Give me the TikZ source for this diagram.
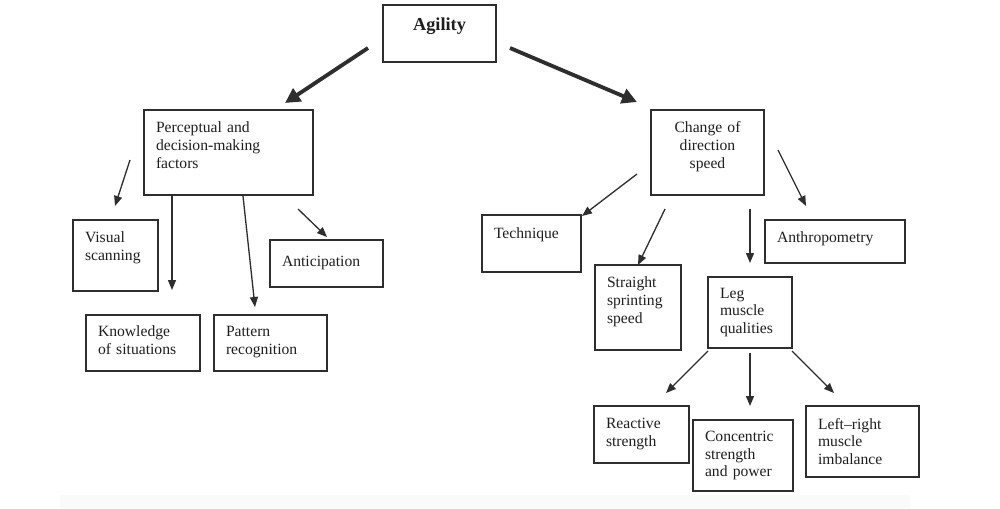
\documentclass[tikz,border=0pt]{standalone}
\usepackage{fontspec}
\setmainfont{Liberation Serif}
\usetikzlibrary{arrows.meta}

\definecolor{linegray}{HTML}{2E2E2E}
\definecolor{inkgray}{HTML}{1E1E1E}
% zero-width strut that deepens the last line, lifts text in its box
\newcommand{\textlift}[1]{\rule[-#1]{0pt}{#1}}

\begin{document}
\begin{tikzpicture}[x=0.02cm, y=-0.02cm,
        every node/.style={font=\fontsize{8.9}{10.2}\selectfont, text=inkgray},
        box/.style={rectangle, draw=linegray, line width=0.85pt,
            inner xsep=0.24cm, inner ysep=0pt, align=left},
        cbox/.style={box, align=center},
        arrow/.style={-{Triangle[length=0.2cm, width=0.16cm]},
            line width=0.75pt, draw=linegray},
        bigarrow/.style={-{Triangle[length=0.3cm, width=0.3cm]},
            line width=2.2pt, draw=linegray}
      ]
      \useasboundingbox (0,0) rectangle (1000,508);
      % faint band along the bottom edge
      \fill[black!2] (60,495) rectangle (910,508);

      % top
      \node[cbox, minimum width=2.26cm, minimum height=1.14cm, text width=1.78cm,
        font=\fontsize{10.4}{12}\selectfont\bfseries] (agility) at (439.5,33.5)
      {Agility\textlift{0.37cm}};

      % left branch
      \node[box, minimum width=3.38cm, minimum height=1.70cm, text width=2.90cm]
      (percep) at (228.5,152.5)
      {Perceptual and\\decision-making\\factors\textlift{0.31cm}};
      \node[box, minimum width=1.70cm, minimum height=1.42cm, text width=1.22cm]
      (visual) at (115.5,255.5)
      {Visual\\scanning\textlift{0.37cm}};
      \node[box, minimum width=2.28cm, minimum height=1.12cm, text width=1.80cm]
      (knowl) at (143,343)
      {Knowledge\\of situations\textlift{0.11cm}};
      \node[box, minimum width=2.26cm, minimum height=1.12cm, text width=1.78cm]
      (pattern) at (270.5,343)
      {Pattern\\recognition\textlift{0.11cm}};
      \node[box, minimum width=2.26cm, minimum height=0.94cm, text width=1.78cm]
      (anticip) at (326.5,263.5)
      {Anticipation\textlift{0.09cm}};

      % right branch
      \node[cbox, minimum width=2.26cm, minimum height=1.70cm, text width=1.78cm]
      (cods) at (707.5,152.5)
      {Change of\\direction\\speed\textlift{0.31cm}};
      \node[box, minimum width=1.98cm, minimum height=1.14cm, text width=1.50cm]
      (techn) at (531.5,243.5)
      {Technique\textlift{0.41cm}};
      \node[box, minimum width=1.72cm, minimum height=1.70cm, text width=1.24cm]
      (sprint) at (638,307.5)
      {Straight\\sprinting\\speed\textlift{0.29cm}};
      \node[box, minimum width=2.80cm, minimum height=0.86cm, text width=2.32cm]
      (anthro) at (835,241.5)
      {Anthropometry\textlift{0.17cm}};
      \node[box, minimum width=1.68cm, minimum height=1.42cm, text width=1.20cm]
      (legmq) at (750,312.5)
      {Leg\\muscle\\qualities};
      \node[box, minimum width=1.90cm, minimum height=1.14cm, text width=1.42cm]
      (react) at (641.5,434.5)
      {Reactive\\strength\textlift{0.07cm}};
      \node[box, minimum width=2.00cm, minimum height=1.42cm, text width=1.52cm]
      (concen) at (743,455.5)
      {Concentric\\strength\\and power};
      \node[box, minimum width=2.26cm, minimum height=1.42cm, text width=1.78cm]
      (lrimb) at (862.5,441.5)
      {Left--right\\muscle\\imbalance};

      % free arrow ends
      \coordinate (ag-l)   at (368,48);  \coordinate (percep-in) at (285,103);
      \coordinate (ag-r)   at (510,48);  \coordinate (cods-in)   at (637,102);
      \coordinate (pf-1)   at (130,160); \coordinate (visual-in) at (115,206);
      \coordinate (pf-2)   at (172,196); \coordinate (knowl-in)  at (172,290);
      \coordinate (pf-3)   at (243,196); \coordinate (pattern-in) at (255,307);
      \coordinate (pf-4)   at (298,209); \coordinate (anticip-in) at (327,237);
      \coordinate (cd-1)   at (637,174); \coordinate (techn-in)  at (582,216);
      \coordinate (cd-2)   at (665,209); \coordinate (sprint-in) at (638,265);
      \coordinate (cd-3)   at (750,209); \coordinate (legmq-in)  at (750,263);
      \coordinate (cd-4)   at (778,150); \coordinate (anthro-in) at (806,206);
      \coordinate (lg-1)   at (708,351); \coordinate (react-in)  at (666,393);
      \coordinate (lg-2)   at (750,353); \coordinate (concen-in) at (750,406);
      \coordinate (lg-3)   at (792,351); \coordinate (lrimb-in)  at (834,393);

      \draw[bigarrow] (ag-l) -- (percep-in);
      \draw[bigarrow] (ag-r) -- (cods-in);
      \draw[arrow] (pf-1) -- (visual-in);
      \draw[arrow] (pf-2) -- (knowl-in);
      \draw[arrow] (pf-3) -- (pattern-in);
      \draw[arrow] (pf-4) -- (anticip-in);
      \draw[arrow] (cd-1) -- (techn-in);
      \draw[arrow] (cd-2) -- (sprint-in);
      \draw[arrow] (cd-3) -- (legmq-in);
      \draw[arrow] (cd-4) -- (anthro-in);
      \draw[arrow] (lg-1) -- (react-in);
      \draw[arrow] (lg-2) -- (concen-in);
      \draw[arrow] (lg-3) -- (lrimb-in);
    \end{tikzpicture}
\end{document}
